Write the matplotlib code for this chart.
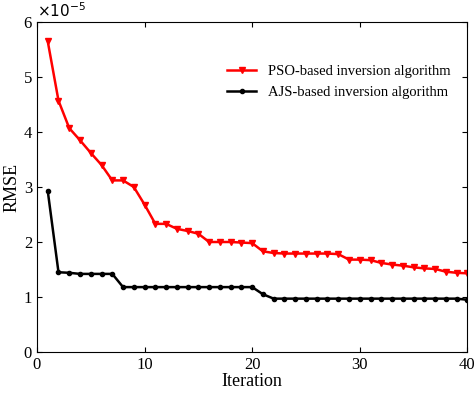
import numpy as np
import matplotlib.pyplot as plt

plt.rcParams['font.family'] = ['Liberation Serif', 'DejaVu Serif']

iteration = np.arange(1, 41)
pso = [5.65, 4.57, 4.07, 3.85, 3.62, 3.40, 3.12, 3.12, 3.00, 2.68,
       2.33, 2.33, 2.24, 2.20, 2.15, 2.00, 2.00, 2.00, 1.99, 1.98,
       1.83, 1.80, 1.79, 1.79, 1.79, 1.79, 1.79, 1.78, 1.68, 1.68,
       1.67, 1.62, 1.59, 1.57, 1.54, 1.52, 1.51, 1.46, 1.44, 1.43]
ajs = [2.93, 1.45, 1.44, 1.42, 1.42, 1.42, 1.42, 1.18, 1.18, 1.18,
       1.18, 1.18, 1.18, 1.18, 1.18, 1.18, 1.18, 1.18, 1.18, 1.18,
       1.05, 0.97, 0.97, 0.97, 0.97, 0.97, 0.97, 0.97, 0.97, 0.97,
       0.97, 0.97, 0.97, 0.97, 0.97, 0.97, 0.97, 0.97, 0.97, 0.95]

fig = plt.figure(figsize=(4.74, 4.0), dpi=100)
ax = fig.add_axes([0.078, 0.12, 0.908, 0.825])
ax.plot(iteration, pso, color='red', marker='v', markersize=4, lw=1.8,
        label='PSO-based inversion algorithm')
ax.plot(iteration, ajs, color='black', marker='o', markersize=3, lw=1.8,
        label='AJS-based inversion algorithm')
ax.set_xlim(0, 40)
ax.set_ylim(0, 6)
ax.set_xticks([0, 10, 20, 30, 40])
ax.set_xlabel('Iteration', fontsize=13, labelpad=0)
ax.set_ylabel('RMSE', fontsize=13, labelpad=2)
ax.tick_params(labelsize=12, direction='in', top=True, right=True)
ax.text(0.0, 1.005, r'$\times10^{-5}$', transform=ax.transAxes, fontsize=11,
        va='bottom')
ax.legend(loc='upper right', bbox_to_anchor=(0.985, 0.9), frameon=False,
          fontsize=10.5, handlelength=2, borderaxespad=0.3)
fig.savefig('out.png')
